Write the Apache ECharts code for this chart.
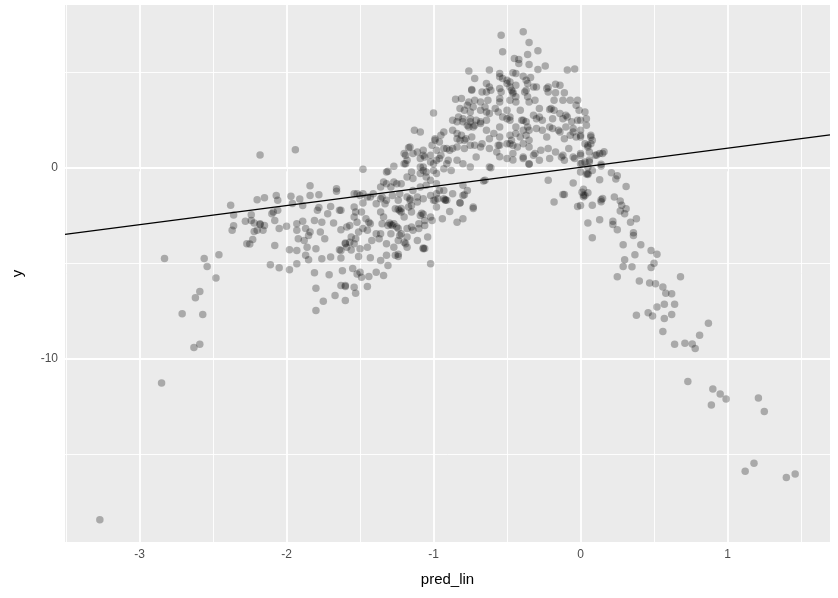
<!DOCTYPE html>
<html>
<head>
<meta charset="utf-8">
<script src="https://cdn.jsdelivr.net/npm/echarts@6/dist/echarts.min.js"></script>
<style>
  html, body { margin: 0; padding: 0; background: #fff; }
  #chart { width: 838px; height: 598px; }
</style>
</head>
<body>
<div id="chart"></div>
<script>
// axis limits and breaks (ggplot defaults: 5% expansion)
const xLimits = [-3.507, 1.697]
const yLimits = [-19.62, 8.5]
const xBreaks = [-3, -2, -1, 0, 1]
const xMinorBreaks = [-3.5, -2.5, -1.5, -0.5, 0.5, 1.5]
const yBreaks = [-10, 0]
const yMinorBreaks = [-15, -5, 5]

// geom_abline
const abline = { intercept: 0, slope: 1 }

const leftTail = [
  [-3.27, -18.46], [-2.85, -11.29], [-2.63, -9.44], [-2.59, -9.27], [-2.71, -7.67], [-2.57, -7.71],
  [-2.62, -6.83], [-2.59, -6.50], [-2.48, -5.79], [-2.54, -5.19], [-2.56, -4.77], [-2.83, -4.77],
  [-2.46, -4.58]
]

const leftArm = [
  [-2.18, 0.64], [-1.94, 0.92], [-2.38, -1.98], [-2.36, -2.50], [-2.36, -3.06], [-2.37, -3.30],
  [-2.28, -2.83], [-2.24, -2.78], [-2.24, -2.48], [-2.20, -1.70], [-2.18, -2.99], [-2.22, -3.36],
  [-2.20, -3.30], [-2.23, -3.78], [-2.27, -4.00], [-2.25, -4.02], [-2.15, -1.59], [-2.07, -1.47],
  [-2.06, -1.73], [-1.97, -1.52], [-1.91, -1.66], [-1.84, -0.96], [-1.84, -1.47], [-1.78, -1.43],
  [-1.66, -1.12], [-1.66, -1.25], [-1.70, -2.05], [-1.64, -2.25], [-1.79, -2.25], [-1.78, -2.10],
  [-1.72, -2.43], [-1.81, -2.78], [-1.76, -2.87], [-1.68, -2.92], [-2.22, -2.92], [-2.15, -3.04],
  [-2.09, -2.34], [-2.10, -2.43], [-2.06, -2.25], [-2.08, -2.78], [-2.05, -3.21], [-2.00, -3.09],
  [-2.16, -3.30], [-2.18, -2.95], [-1.93, -2.95], [-1.89, -2.83], [-1.93, -3.30], [-1.92, -3.74],
  [-1.87, -3.21], [-1.84, -3.39], [-1.77, -3.39], [-1.74, -3.74], [-1.85, -3.57], [-1.88, -3.83],
  [-1.63, -3.27], [-2.08, -4.09], [-1.98, -4.32], [-1.93, -4.35], [-1.87, -4.61], [-1.86, -4.18],
  [-1.80, -4.26], [-1.76, -4.79], [-1.70, -4.70], [-1.64, -4.32], [-1.63, -4.75], [-1.85, -4.84],
  [-1.93, -5.05], [-2.11, -5.10], [-2.05, -5.26], [-1.98, -5.37], [-1.81, -5.52], [-1.71, -5.63],
  [-1.80, -6.33], [-1.75, -7.01], [-1.80, -7.50], [-1.67, -6.71], [-1.63, -6.19], [-1.60, -6.24],
  [-1.60, -6.97], [-1.62, -5.42], [-1.60, -3.96], [-1.89, -2.00], [-1.96, -1.90]
]

const lowerCluster = [
  [-1.54, -6.28], [-1.53, -6.59], [-1.45, -6.24], [-1.55, -5.30], [-1.52, -5.58], [-1.49, -5.75],
  [-1.44, -5.72], [-1.39, -5.49], [-1.34, -5.66], [-1.31, -5.14], [-1.24, -4.67], [-1.07, -4.23],
  [-1.02, -5.05], [-1.32, -4.61], [-1.43, -4.74], [-1.51, -4.67], [-1.56, -4.33], [-1.53, -3.74],
  [-1.57, -3.92], [-1.51, -3.39], [-1.45, -3.30], [-1.46, -2.69], [-1.44, -2.87], [-1.52, -2.87],
  [-1.57, -3.04], [-1.54, -2.60], [-1.53, -2.34], [-1.49, -2.34], [-1.48, -1.87], [-1.50, -1.47],
  [-1.48, -0.10], [-1.41, -1.38], [-1.39, -1.91], [-1.36, -2.34], [-1.34, -2.60], [-1.36, -3.48],
  [-1.37, -3.74], [-1.29, -2.99], [-1.30, -2.92], [-1.28, -3.05], [-1.25, -3.13], [-1.22, -3.48],
  [-1.18, -3.21], [-1.14, -3.30], [-1.20, -3.92], [-1.18, -4.18], [-1.27, -4.18], [-1.32, -4.00],
  [-1.11, -3.83], [-1.10, -2.95], [-1.07, -2.46], [-1.08, -2.40], [-1.01, -2.78], [-0.94, -2.69],
  [-1.24, -2.20], [-1.22, -2.15], [-1.23, -2.28], [-1.17, -2.08], [-1.15, -2.00], [-1.33, -1.91],
  [-1.32, -1.73], [-1.35, -1.56], [-1.43, -1.56], [-1.48, -1.38], [-1.52, -1.38], [-1.34, -0.77],
  [-1.32, -0.25], [-1.27, 0.05], [-1.36, -1.03], [-1.29, -1.03], [-1.25, -0.86], [-1.23, -1.38],
  [-1.18, -1.56], [-1.16, -1.73], [-1.14, -1.21], [-1.09, -1.03], [-1.11, -1.56], [-1.07, -0.16],
  [-1.05, -0.51], [-1.09, -0.33], [-1.02, -0.68], [-0.98, -0.86], [-0.99, -1.73], [-0.98, -2.08],
  [-0.93, -1.64], [-0.96, -1.21], [-1.31, -0.21], [-1.32, -0.86], [-1.27, -0.77], [-1.22, -0.86],
  [-1.18, -0.51], [-1.15, -0.25], [-1.19, 0.19], [-1.54, -1.38], [-1.45, -1.56], [-1.36, -1.64],
  [-1.28, -1.47], [-1.24, -1.73], [-1.26, -2.17], [-1.22, -2.34], [-1.20, -2.60], [-1.16, -1.64],
  [-1.11, -1.82], [-1.07, -1.64], [-1.02, -1.47], [-0.97, -1.64], [-0.91, -1.73], [-1.15, -2.34],
  [-1.09, -2.52], [-1.06, -2.78], [-1.02, -2.60], [-1.43, -2.95], [-1.48, -3.21], [-1.56, -3.65],
  [-1.60, -4.00], [-1.63, -4.35], [-1.35, -2.95], [-1.31, -3.04], [-1.27, -2.95], [-1.24, -3.21],
  [-1.29, -3.48], [-1.39, -3.48], [-1.42, -3.83], [-1.45, -4.18], [-1.50, -4.26], [-1.54, -4.00],
  [-1.59, -4.18], [-1.23, -3.57], [-1.18, -3.65], [-1.24, -3.83], [-1.26, -4.61], [-1.24, -4.55],
  [-1.19, -4.00], [-1.15, -3.13], [-1.10, -3.21], [-1.06, -3.04], [-1.04, -3.65], [-1.36, -4.88],
  [-1.50, -5.49], [-1.60, -6.19], [-1.07, -4.26], [-1.54, -2.08], [-1.63, -2.25], [-1.59, -3.13],
  [-1.14, -0.59], [-1.05, -0.94], [-0.98, -1.38], [-1.00, -1.73], [-0.93, -1.21], [-0.87, -1.38],
  [-0.80, -1.47], [-0.92, -1.73], [-0.82, -1.87], [-0.73, -2.08], [-0.73, -2.15], [-0.80, -2.69],
  [-0.84, -2.87], [-0.89, -2.31], [-0.82, -1.85], [-0.92, -1.70], [-0.79, -1.43], [-0.80, -0.94],
  [-0.77, -1.21], [-0.66, -0.72], [-0.61, -0.02], [-0.65, -0.68], [-1.06, -4.25]
]

const risingBand = [
  [-1.20, 0.72], [-1.16, 1.06], [-1.11, 0.80], [-1.07, 0.63], [-1.01, 1.15], [-0.96, 1.33],
  [-0.91, 0.98], [-1.09, 0.02], [-1.05, -0.25], [-1.00, 0.19], [-0.98, -0.33], [-0.93, -0.07],
  [-0.90, 0.37], [-1.20, 0.19], [-1.18, 0.37], [-1.14, 0.72], [-1.07, 0.89], [-1.02, 0.63],
  [-0.98, 0.37], [-0.95, 0.63], [-1.09, 0.46], [-1.06, 0.54], [-1.02, 0.28], [-1.07, 0.02],
  [-1.00, -0.16], [-0.96, 0.46], [-0.91, 0.19], [-0.88, -0.16], [-0.84, 0.37], [-0.80, 0.19],
  [-0.75, 0.02], [-0.71, 0.54], [-0.62, 0.02], [-0.57, 0.80], [-0.50, 0.46], [-0.46, 0.72],
  [-1.17, 1.02], [-1.19, 0.63], [-0.98, 0.89], [-0.93, 0.98], [-0.89, 0.89], [-0.84, 1.06],
  [-0.79, 0.98], [-0.75, 1.15], [-0.68, 1.06], [-0.62, 0.98], [-0.55, 1.15], [-0.48, 1.24],
  [-0.43, 1.06], [-1.13, 1.94], [-1.09, 1.85], [-0.93, 1.85], [-0.95, 1.68], [-0.99, 1.50],
  [-0.84, 1.77], [-0.81, 1.68], [-0.78, 1.50], [-0.82, 1.42], [-0.64, 1.94], [-0.59, 1.77],
  [-0.55, 1.59], [-0.48, 1.68], [-0.44, 1.77], [-0.87, 1.94], [-0.84, 1.50], [-0.79, 1.42],
  [-0.74, 1.59], [-0.72, 1.15], [-0.67, 1.24], [-0.62, 1.50], [-0.56, 1.15], [-0.50, 1.24],
  [-0.47, 1.42], [-0.99, 1.42], [-0.87, 0.98], [-1.00, 2.85], [-0.87, 2.46], [-0.84, 2.38],
  [-0.80, 2.55], [-0.77, 2.20], [-0.75, 2.38], [-0.73, 2.11], [-0.71, 2.46], [-0.68, 2.29],
  [-0.83, 2.64], [-0.80, 2.38], [-0.75, 2.55], [-0.76, 2.11], [-0.72, 2.20], [-0.68, 2.38],
  [-0.64, 2.46], [-0.55, 0.56], [-0.46, 0.38]
]

const peak = [
  [-0.54, 6.92], [-0.39, 7.10], [-0.35, 6.54], [-0.53, 6.05], [-0.36, 5.91], [-0.29, 6.10],
  [-0.45, 5.70], [-0.42, 5.65], [-0.42, 5.44], [-0.35, 5.39], [-0.24, 5.31], [-0.29, 5.12],
  [-0.09, 5.09], [-0.04, 5.15], [-0.76, 5.05], [-0.62, 5.09], [-0.55, 4.91], [-0.46, 4.95],
  [-0.44, 4.91], [-0.72, 4.65], [-0.53, 4.65], [-0.50, 4.56], [-0.48, 4.47], [-0.39, 4.77],
  [-0.37, 4.56], [-0.34, 4.70], [-0.36, 4.39], [-0.64, 4.39], [-0.62, 4.21], [-0.61, 4.04],
  [-0.64, 3.95], [-0.74, 4.07], [-0.67, 3.95], [-0.55, 4.13], [-0.54, 3.95], [-0.55, 3.60],
  [-0.55, 3.42], [-0.48, 4.21], [-0.46, 3.86], [-0.48, 3.51], [-0.44, 3.69], [-0.37, 4.04],
  [-0.36, 3.69], [-0.35, 3.42], [-0.31, 3.51], [-0.30, 4.21], [-0.23, 4.13], [-0.22, 3.95],
  [-0.17, 4.35], [-0.14, 4.30], [-0.11, 3.90], [-0.18, 3.51], [-0.12, 3.51], [-0.07, 3.51],
  [-0.02, 3.51], [-0.85, 3.57], [-0.81, 3.60], [-0.76, 3.42], [-0.72, 3.51], [-0.68, 3.42],
  [-0.82, 3.08], [-0.79, 2.99], [-0.75, 2.90], [-0.73, 3.16], [-0.65, 3.16], [-0.64, 2.90],
  [-0.62, 2.82], [-0.58, 3.08], [-0.56, 2.90], [-0.50, 2.99], [-0.48, 2.64], [-0.50, 2.55],
  [-0.41, 2.99], [-0.39, 2.46], [-0.37, 2.38], [-0.36, 2.11], [-0.32, 2.73], [-0.30, 2.55],
  [-0.28, 2.64], [-0.26, 2.46], [-0.20, 3.08], [-0.18, 2.99], [-0.14, 2.82], [-0.10, 2.73],
  [-0.06, 2.38], [-0.01, 2.99], [0.04, 2.55], [0.00, 2.46], [-0.74, 4.04], [-0.55, 4.74],
  [-0.50, 4.39], [-0.46, 3.95], [-0.44, 3.42], [-0.77, 3.25], [-0.68, 2.99], [-0.63, 3.51],
  [-0.53, 2.64], [-0.55, 2.11], [-0.32, 4.21], [-0.44, 4.30], [-0.47, 4.04], [-0.38, 3.95],
  [-0.22, 4.21], [-0.17, 3.90], [-0.03, 3.25], [0.03, 2.90], [0.04, 2.20], [-0.28, 3.08],
  [-0.21, 3.03], [-0.19, 2.55], [-0.12, 2.55], [-0.09, 2.64], [-0.02, 2.46], [-0.05, 2.03],
  [0.00, 1.94], [-0.03, 1.59], [0.00, 1.68], [0.03, 1.24], [0.05, 1.15], [0.07, 1.68],
  [0.08, 1.42]
]

const peakLower = [
  [-0.35, 1.94], [-0.30, 2.03], [-0.26, 1.94], [-0.21, 2.11], [-0.15, 1.94], [-0.10, 2.11],
  [-0.05, 1.85], [0.00, 1.59], [0.07, 1.59], [-0.39, 0.54], [-0.35, 0.19], [-0.32, 0.63],
  [-0.28, 0.37], [-0.21, 0.46], [-0.17, 0.80], [-0.13, 0.54], [-0.05, 0.54], [0.00, 0.63],
  [0.05, 1.06], [0.07, 1.24], [0.00, -0.25], [0.05, -0.33], [0.03, -1.47], [-0.22, -0.68],
  [-0.05, -0.82], [-0.12, -1.42], [-0.48, 2.46], [-0.44, 2.11], [-0.40, 2.46], [-0.39, 1.94],
  [-0.41, 1.59], [-0.37, 1.68], [-0.35, 1.42], [-0.23, 1.59], [-0.19, 2.03], [-0.14, 1.85],
  [-0.11, 1.50], [-0.07, 1.68], [-0.46, 1.15], [-0.39, 1.24], [-0.35, 1.06], [-0.31, 0.72],
  [-0.27, 0.89], [-0.22, 0.98], [-0.12, 0.63], [-0.08, 0.98], [0.00, 0.72], [0.06, 0.80],
  [0.10, 0.63], [0.15, 0.72], [-0.39, 0.46], [-0.11, 0.37], [-0.04, 0.46], [0.00, 0.19],
  [0.03, 0.28], [0.06, 0.28], [0.05, 0.02], [0.08, -0.16], [-0.35, 0.16], [0.14, 0.16],
  [-0.18, -1.82], [-0.11, -1.42], [-0.02, -2.05], [0.02, -1.45], [0.01, -1.30], [0.01, 0.21],
  [0.06, 0.38], [0.11, 0.64], [0.13, 0.73], [0.16, 0.82]
]

const rightSide = [
  [0.21, -0.28], [0.25, -0.44], [0.24, -0.61], [0.31, -1.00], [0.13, -0.65], [0.14, 0.07],
  [0.05, -0.37], [0.04, -0.35], [0.02, -1.15], [0.05, -1.33], [0.02, -1.54], [0.00, -2.00],
  [0.08, -1.99], [0.14, -1.70], [0.15, -1.63], [0.14, -1.80], [0.23, -1.56], [0.27, -1.77],
  [0.28, -1.99], [0.27, -2.29], [0.31, -2.17], [0.30, -2.43], [0.38, -2.69], [0.34, -2.87],
  [0.22, -2.83], [0.22, -2.99], [0.25, -3.27], [0.13, -2.74], [0.05, -2.92], [0.08, -3.69],
  [0.36, -3.43], [0.36, -3.57], [0.29, -4.05], [0.41, -4.05], [0.37, -4.58], [0.48, -4.35],
  [0.52, -4.55], [0.30, -4.84], [0.29, -5.19], [0.35, -5.21], [0.50, -5.02], [0.48, -5.24],
  [0.25, -5.73], [0.68, -5.73], [0.40, -5.95], [0.47, -6.06], [0.51, -6.10], [0.56, -6.27],
  [0.58, -6.59], [0.62, -6.62], [0.52, -7.32], [0.57, -7.17], [0.64, -7.17], [0.38, -7.74],
  [0.46, -7.62], [0.49, -7.78], [0.62, -7.71], [0.57, -7.92], [0.87, -8.16], [0.56, -8.60],
  [0.81, -8.79], [0.64, -9.27], [0.71, -9.21], [0.76, -9.25], [0.78, -9.49]
]

const rightTail = [
  [0.73, -11.22], [0.90, -11.61], [0.95, -11.87], [0.99, -12.13], [0.89, -12.44], [1.21, -12.08],
  [1.25, -12.78], [1.18, -15.49], [1.12, -15.92], [1.40, -16.24], [1.46, -16.06]
]

const points = [].concat(leftTail, leftArm, lowerCluster, risingBand, peak, peakLower, rightSide, rightTail)
const ablineData = xLimits.map(x => [x, abline.intercept + abline.slope * x])

// panel grid lines, ggplot style (major wider than minor)
const gridLines = [].concat(
  xMinorBreaks.map(v => ({ xAxis: v, lineStyle: { width: 0.9 } })),
  yMinorBreaks.map(v => ({ yAxis: v, lineStyle: { width: 0.9 } })),
  xBreaks.map(v => ({ xAxis: v, lineStyle: { width: 1.8 } })),
  yBreaks.map(v => ({ yAxis: v, lineStyle: { width: 1.8 } }))
)

const font = 'Liberation Sans, Arial, sans-serif'
const chart = echarts.init(document.getElementById('chart'), null, { renderer: 'canvas' })

chart.setOption({
  animation: false,
  backgroundColor: '#fff',
  grid: {
    show: true,
    left: 65,
    right: 8,
    top: 5,
    bottom: 56,
    backgroundColor: '#EBEBEB',
    borderWidth: 0
  },
  xAxis: {
    type: 'value',
    min: xLimits[0],
    max: xLimits[1],
    name: 'pred_lin',
    nameLocation: 'middle',
    nameGap: 30,
    nameTextStyle: { color: '#000', fontSize: 15, fontFamily: font },
    axisLine: { show: false },
    axisTick: { show: true, customValues: xBreaks, length: 4, lineStyle: { color: '#333', width: 1 } },
    axisLabel: { customValues: xBreaks, color: '#4D4D4D', fontSize: 12, fontFamily: font, margin: 7 },
    splitLine: { show: false }
  },
  yAxis: {
    type: 'value',
    min: yLimits[0],
    max: yLimits[1],
    name: 'y',
    nameLocation: 'middle',
    nameGap: 40,
    nameTextStyle: { color: '#000', fontSize: 15, fontFamily: font },
    axisLine: { show: false },
    axisTick: { show: true, customValues: yBreaks, length: 4, lineStyle: { color: '#333', width: 1 } },
    axisLabel: { customValues: yBreaks, color: '#4D4D4D', fontSize: 12, fontFamily: font, margin: 7 },
    splitLine: { show: false }
  },
  series: [
    {
      type: 'scatter',
      z: 10,
      data: points,
      symbolSize: 7.5,
      itemStyle: { color: 'rgba(0,0,0,0.35)', borderWidth: 0 },
      silent: true,
      markLine: {
        silent: true,
        symbol: ['none', 'none'],
        label: { show: false },
        lineStyle: { color: '#fff', type: 'solid' },
        data: gridLines
      }
    },
    {
      type: 'line',
      z: 11,
      data: ablineData,
      symbol: 'none',
      silent: true,
      lineStyle: { color: '#000', width: 1.2 }
    }
  ]
})
</script>
</body>
</html>
